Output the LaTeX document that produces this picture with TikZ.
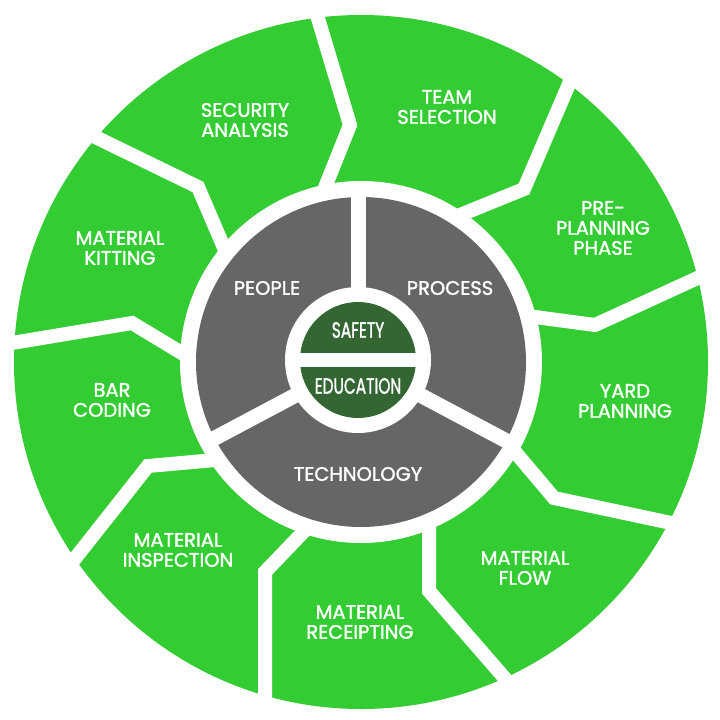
\documentclass[tikz,border=0pt]{standalone}
\usepackage{fontspec}
\setmainfont{Poppins}
\newfontfamily\pmed[FakeBold=1.6]{Poppins}
\begin{document}
\begin{tikzpicture}[x=1pt,y=-1pt,
  lbl/.style={text=white,font=\pmed\fontsize{19.5}{20}\selectfont,align=center,inner sep=0pt},
  mid/.style={text=white,font=\pmed\fontsize{19.5}{20}\selectfont,inner sep=0pt},
  ctr/.style={text=white,font=\pmed\fontsize{22}{20}\selectfont,xscale=0.7,inner sep=0pt},
  sep/.style={white,line width=14pt,line join=miter}]
\definecolor{gr}{HTML}{33CC33}
\definecolor{gy}{HTML}{666666}
\definecolor{dg}{HTML}{336633}
\fill[white] (0,0) rectangle (720,720);
\useasboundingbox (0,0) rectangle (720,720);
\fill[gr] (361,362) circle (347);
% separators
\draw[sep] (314,5) -- (350,125) -- (320,200);
\draw[sep] (575,70) -- (524,189) -- (460,215);
\draw[sep] (715,270) -- (595,325) -- (520,315);
\draw[sep] (690,527) -- (554,498) -- (505,440);
\draw[sep] (515,690) -- (429,591) -- (429,520);
\draw[sep] (265,715) -- (265,572) -- (310,525);
\draw[sep] (62,575) -- (148,466) -- (215,460);
\draw[sep] (0,345) -- (132,323) -- (190,358);
\draw[sep] (85,132) -- (198,187) -- (225,250);
\fill[white] (361,362) circle (181);
\fill[gy] (361,362) circle (165);
\draw[white,line width=15pt] (358,362) -- ++(0,-175);
\draw[white,line width=15pt] (358,362) -- ++(152:175);
\draw[white,line width=15pt] (358,362) -- ++(28:175);
\fill[white] (358,360) circle (73);
\fill[dg] (358,360) circle (58);
\fill[white] (290,353) rectangle (430,367);
% labels
\node[lbl] (sa) at (245,120) {SECURITY\\ANALYSIS};
\node[lbl] (ts) at (447,107) {TEAM\\SELECTION};
\node[lbl] (pp) at (603,228) {PRE-\\PLANNING\\PHASE};
\node[lbl] (mk) at (120,248) {MATERIAL\\KITTING};
\node[lbl] (yp) at (625,401) {YARD\\PLANNING};
\node[lbl] (bc) at (112,400) {BAR\\CODING};
\node[lbl] (mf) at (525,568) {MATERIAL\\FLOW};
\node[lbl] (mi) at (178,550) {MATERIAL\\INSPECTION};
\node[lbl] (mr) at (360,622) {MATERIAL\\RECEIPTING};
\node[mid] (pe) at (267,288) {PEOPLE};
\node[mid] (pr) at (450,288) {PROCESS};
\node[mid] (te) at (358,474) {TECHNOLOGY};
\node[ctr] (sf) at (358,330) {SAFETY};
\node[ctr] (ed) at (358,386) {EDUCATION};
\end{tikzpicture}
\end{document}
